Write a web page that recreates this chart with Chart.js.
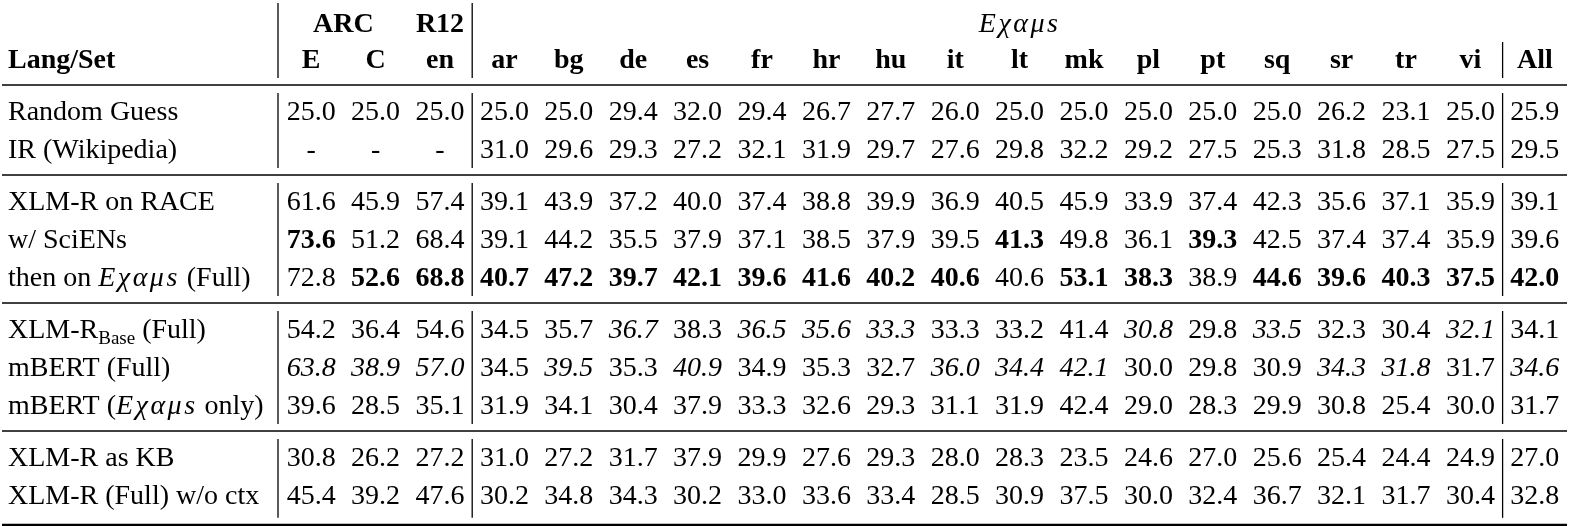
<!DOCTYPE html>
<html><head><meta charset="utf-8">
<script src="https://cdn.jsdelivr.net/npm/chart.js@4.4.1/dist/chart.umd.min.js"></script>
<style>html,body{margin:0;padding:0;background:#fff;overflow:hidden;}canvas{display:block;}</style>
</head><body>
<canvas id="c" width="1572" height="526"></canvas>
<script>
// ---------- data ----------
const columns = ['E','C','en','ar','bg','de','es','fr','hr','hu','it','lt','mk','pl','pt','sq','sr','tr','vi','All'];
const cornerHeader = 'Lang/Set';
const arcHeader = 'ARC';      // over E, C
const r12Header = 'R12';      // over en
const examsHeader = 'Eχαμs';  // over ar ... All

const rowLabels = [
  'Random Guess',
  'IR (Wikipedia)',
  'XLM-R on RACE',
  'w/ SciENs',
  'then on {Eχαμs} (Full)',
  'XLM-R_{Base} (Full)',
  'mBERT (Full)',
  'mBERT ({Eχαμs} only)',
  'XLM-R as KB',
  'XLM-R (Full) w/o ctx'
];

const randomGuess = [25.0,25.0,25.0,25.0,25.0,29.4,32.0,29.4,26.7,27.7,26.0,25.0,25.0,25.0,25.0,25.0,26.2,23.1,25.0,25.9];
const irWikipedia = [null,null,null,31.0,29.6,29.3,27.2,32.1,31.9,29.7,27.6,29.8,32.2,29.2,27.5,25.3,31.8,28.5,27.5,29.5];
const xlmrRace    = [61.6,45.9,57.4,39.1,43.9,37.2,40.0,37.4,38.8,39.9,36.9,40.5,45.9,33.9,37.4,42.3,35.6,37.1,35.9,39.1];
const wSciens     = [73.6,51.2,68.4,39.1,44.2,35.5,37.9,37.1,38.5,37.9,39.5,41.3,49.8,36.1,39.3,42.5,37.4,37.4,35.9,39.6];
const thenExams   = [72.8,52.6,68.8,40.7,47.2,39.7,42.1,39.6,41.6,40.2,40.6,40.6,53.1,38.3,38.9,44.6,39.6,40.3,37.5,42.0];
const xlmrBase    = [54.2,36.4,54.6,34.5,35.7,36.7,38.3,36.5,35.6,33.3,33.3,33.2,41.4,30.8,29.8,33.5,32.3,30.4,32.1,34.1];
const mbertFull   = [63.8,38.9,57.0,34.5,39.5,35.3,40.9,34.9,35.3,32.7,36.0,34.4,42.1,30.0,29.8,30.9,34.3,31.8,31.7,34.6];
const mbertExams  = [39.6,28.5,35.1,31.9,34.1,30.4,37.9,33.3,32.6,29.3,31.1,31.9,42.4,29.0,28.3,29.9,30.8,25.4,30.0,31.7];
const xlmrKB      = [30.8,26.2,27.2,31.0,27.2,31.7,37.9,29.9,27.6,29.3,28.0,28.3,23.5,24.6,27.0,25.6,25.4,24.4,24.9,27.0];
const xlmrNoCtx   = [45.4,39.2,47.6,30.2,34.8,34.3,30.2,33.0,33.6,33.4,28.5,30.9,37.5,30.0,32.4,36.7,32.1,31.7,30.4,32.8];

const rowValues = [randomGuess, irWikipedia, xlmrRace, wSciens, thenExams, xlmrBase, mbertFull, mbertExams, xlmrKB, xlmrNoCtx];
const rowGroups = [0,0,1,1,1,2,2,2,3,3];

// emphasis (bold = best, italic = second)
const boldCells = {
  3: ['E','lt','pt'],
  4: ['C','en','ar','bg','de','es','fr','hr','hu','it','mk','pl','sq','sr','tr','vi','All']
};
const italicCells = {
  5: ['de','fr','hr','hu','pl','sq','vi'],
  6: ['E','C','en','bg','es','it','lt','mk','sr','tr','All']
};

// ---------- layout ----------
const PITCH = 38;            // px per row unit
const GAP = 0.368;           // extra space between row groups (row units)
const FONT = "'Liberation Serif','Times New Roman',serif";
const SIZE = 28;
const SUB = 19;
const Y_MIN = -120 / PITCH;
const Y_MAX = Y_MIN + 526 / PITCH;

function rowPos(i){ return i + rowGroups[i] * GAP; }
const HEADER2 = -1 - GAP;
const HEADER1 = HEADER2 - 0.95;

function font(style, weight, size){ return `${style} ${weight} ${size}px ${FONT}`; }

function parseRuns(s){
  const runs = []; const re = /(_\{[^}]*\}|\{[^}]*\})/g; let last = 0, m;
  while ((m = re.exec(s))) {
    if (m.index > last) runs.push({t: s.slice(last, m.index)});
    if (m[0][0] === '_') runs.push({t: m[0].slice(2, -1), sub: true});
    else runs.push({t: m[0].slice(1, -1), math: true});
    last = re.lastIndex;
  }
  if (last < s.length) runs.push({t: s.slice(last)});
  return runs;
}
const MATH_SP = 2.5;
function runWidth(ctx, r, weight){
  if (r.sub){ ctx.font = font('normal', weight, SUB); return ctx.measureText(r.t).width; }
  if (r.math){ ctx.font = font('italic', 'normal', SIZE); let w = 0; for (const ch of r.t) w += ctx.measureText(ch).width + MATH_SP; return w; }
  ctx.font = font('normal', weight, SIZE); return ctx.measureText(r.t).width;
}
function drawRuns(ctx, s, x, y, align, weight){
  const runs = parseRuns(s);
  let total = 0; runs.forEach(r => total += runWidth(ctx, r, weight));
  let cx = align === 'center' ? x - total / 2 : x;
  ctx.textAlign = 'left'; ctx.textBaseline = 'alphabetic';
  for (const r of runs){
    if (r.sub){ ctx.font = font('normal', weight, SUB); ctx.fillText(r.t, cx, y + 6); cx += ctx.measureText(r.t).width; }
    else if (r.math){ ctx.font = font('italic', 'normal', SIZE); for (const ch of r.t){ ctx.fillText(ch, cx, y); cx += ctx.measureText(ch).width + MATH_SP; } }
    else { ctx.font = font('normal', weight, SIZE); ctx.fillText(r.t, cx, y); cx += ctx.measureText(r.t).width; }
  }
}

const tablePlugin = {
  id: 'tablePlugin',
  afterDatasetsDraw(chart){
    const ctx = chart.ctx, xs = chart.scales.x, ys = chart.scales.y;
    const cx = i => xs.getPixelForValue(i);
    const py = v => ys.getPixelForValue(v);
    ctx.save();
    ctx.fillStyle = '#000'; ctx.strokeStyle = '#000';

    // headers
    const h1 = py(HEADER1), h2 = py(HEADER2);
    ctx.textAlign = 'center'; ctx.textBaseline = 'alphabetic';
    ctx.font = font('normal', 'bold', SIZE);
    ctx.fillText(arcHeader, (cx(0) + cx(1)) / 2, h1);
    ctx.fillText(r12Header, cx(2), h1);
    const exLeft = (cx(2) + cx(3)) / 2, exRight = xs.right;
    drawRuns(ctx, '{' + examsHeader + '}', (exLeft + exRight) / 2, h1, 'center', 'normal');
    ctx.textAlign = 'left'; ctx.font = font('normal', 'bold', SIZE);
    ctx.fillText(cornerHeader, 8, h2);
    ctx.textAlign = 'center';
    columns.forEach((c, i) => ctx.fillText(c, cx(i), h2));

    // cells
    chart.data.datasets.forEach((ds, r) => {
      const meta = chart.getDatasetMeta(r);
      drawRuns(ctx, rowLabels[r], 8, meta.data[0].y, 'left', 'normal');
      meta.data.forEach((el, j) => {
        const v = ds.data[j].v;
        const col = columns[j];
        const bold = (boldCells[r] || []).includes(col);
        const ital = (italicCells[r] || []).includes(col);
        ctx.font = font(ital ? 'italic' : 'normal', bold ? 'bold' : 'normal', SIZE);
        ctx.textAlign = 'center'; ctx.textBaseline = 'alphabetic';
        ctx.fillText(v === null ? '-' : v.toFixed(1), el.x, el.y);
      });
    });

    // horizontal rules
    const nGroups = Math.max(...rowGroups) + 1;
    const rules = [py(-0.92)];
    for (let g = 0; g < nGroups - 1; g++){
      const last = rowGroups.lastIndexOf(g);
      rules.push(py(rowPos(last) + 0.447));
    }
    const bottom = py(rowPos(rowGroups.length - 1) + 0.55);
    const L = 2, R = xs.right;
    ctx.lineWidth = 1.5;
    rules.forEach(y => { ctx.beginPath(); ctx.moveTo(L, y); ctx.lineTo(R, y); ctx.stroke(); });
    ctx.lineWidth = 2.2;
    ctx.beginPath(); ctx.moveTo(L, bottom); ctx.lineTo(R, bottom); ctx.stroke();

    // vertical rules (broken at horizontal rules)
    const bounds = [3, ...rules, bottom];
    const vx = [xs.left - 1, (cx(2) + cx(3)) / 2, (cx(18) + cx(19)) / 2];
    ctx.lineWidth = 1.3;
    vx.forEach((x, k) => {
      for (let b = 0; b < bounds.length - 1; b++){
        let top = b === 0 ? bounds[0] : bounds[b] + 8;
        if (b === 0 && k === 2) top = h2 - 26;
        const bot = bounds[b + 1] - 7;
        ctx.beginPath(); ctx.moveTo(x, top); ctx.lineTo(x, bot); ctx.stroke();
      }
    });
    ctx.restore();
  }
};

const datasets = rowValues.map((vals, r) => ({
  label: rowLabels[r],
  data: columns.map((c, j) => ({x: c, y: rowPos(r), v: vals[j]})),
  pointRadius: 0,
  showLine: false
}));

new Chart(document.getElementById('c'), {
  type: 'scatter',
  data: { datasets },
  options: {
    responsive: false,
    animation: false,
    events: [],
    devicePixelRatio: 1,
    layout: { padding: { left: 279, right: 5, top: 0, bottom: 0 } },
    plugins: { legend: { display: false }, tooltip: { enabled: false } },
    scales: {
      x: { type: 'category', labels: columns, offset: true, display: false },
      y: { type: 'linear', min: Y_MIN, max: Y_MAX, reverse: true, display: false }
    }
  },
  plugins: [tablePlugin]
});
</script>
</body></html>
